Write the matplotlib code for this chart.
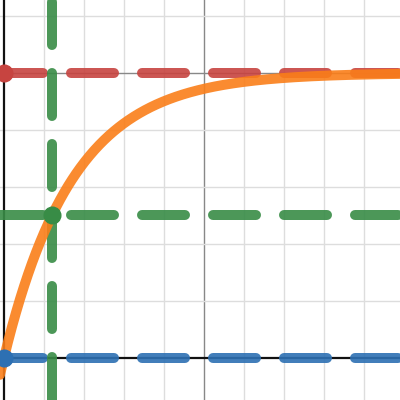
import numpy as np
import matplotlib
matplotlib.use("Agg")
import matplotlib.pyplot as plt

# Desmos-style exponential approach: y = A (1 - exp(-x / tau))
amplitude = 5.0
half_x = 1.2
half_y = 2.5
tau = half_x / np.log(2)

x_min, x_max = -0.1, 9.9
y_min, y_max = -0.74, 6.28

fig = plt.figure(figsize=(4, 4), dpi=100)
ax = fig.add_axes([0, 0, 1, 1])
ax.set_xlim(x_min, x_max)
ax.set_ylim(y_min, y_max)
ax.axis("off")

# grid
for gx in np.arange(1, 10):
    c, w = ("#888888", 1.0) if gx % 5 == 0 else ("#dddddd", 1.0)
    ax.axvline(gx, color=c, lw=w, zorder=0)
for gy in np.arange(1, 7):
    c, w = ("#888888", 1.0) if gy % 5 == 0 else ("#dddddd", 1.0)
    ax.axhline(gy, color=c, lw=w, zorder=0)
ax.axvline(0, color="#111111", lw=1.6, zorder=1)
ax.axhline(0, color="#111111", lw=1.6, zorder=1)

dash = dict(lw=7.2, dashes=(4.3, 2.8), dash_capstyle="round", alpha=0.9, zorder=2)
ax.axhline(amplitude, color="#c74440", **dash)
ax.axhline(0, color="#2d70b3", **dash)
ax.axhline(half_y, color="#388c46", **dash)
ax.axvline(half_x, color="#388c46", **dash)

xs = np.linspace(x_min, x_max, 500)
ax.plot(xs, amplitude * (1 - np.exp(-xs / tau)), color="#fa7e19", lw=7.2,
        alpha=0.9, solid_capstyle="round", zorder=3)

ax.plot([0], [amplitude], "o", color="#c74440", ms=12, zorder=4)
ax.plot([0], [0], "o", color="#2d70b3", ms=12, zorder=4)
ax.plot([half_x], [half_y], "o", color="#388c46", ms=12, zorder=4)

fig.savefig("out.png")
